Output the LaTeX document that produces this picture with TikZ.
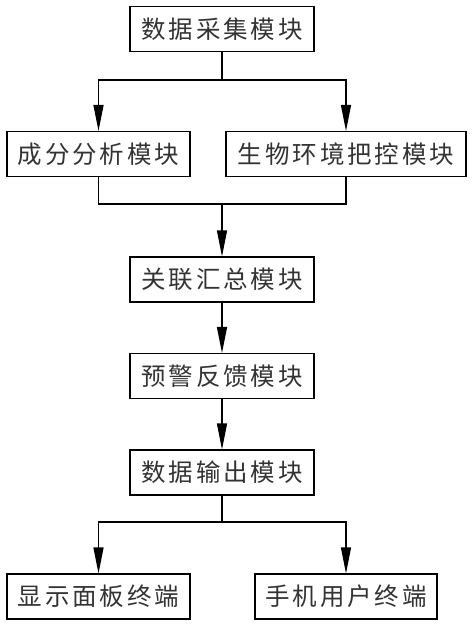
\documentclass[tikz,border=0pt]{standalone}
\usepackage{fontspec}
\newfontfamily\cjk[LetterSpace=12]{Noto Sans CJK SC}
\usetikzlibrary{arrows.meta}
\begin{document}
\begin{tikzpicture}[x=1pt,y=-1pt,
  box/.style={draw,line width=1.2pt,rectangle,minimum height=45pt,inner sep=0pt,font=\cjk\fontsize{24.5}{24.5}\selectfont,text=black!80},
  conn/.style={line width=1.2pt},
  arr/.style={conn,-{Triangle[length=26pt,width=10pt]}}]
\useasboundingbox (0,0) rectangle (474,627);
\node[box,minimum width=184pt] (a) at (222,29) {数据采集模块};
\node[box,minimum width=183pt] (b) at (98.5,154) {成分分析模块};
\node[box,minimum width=240pt] (c) at (346,154) {生物环境把控模块};
\node[box,minimum width=184pt] (d) at (222,279.5) {关联汇总模块};
\node[box,minimum width=184pt] (e) at (222,376) {预警反馈模块};
\node[box,minimum width=184pt] (f) at (222,472.5) {数据输出模块};
\node[box,minimum width=183pt] (g) at (98.5,596.5) {显示面板终端};
\node[box,minimum width=182pt] (h) at (346,596.5) {手机用户终端};
\coordinate (s1) at (222,80);
\coordinate (m1) at (222,204);
\coordinate (s2) at (222,522);
\draw[conn] (a.south) -- (s1);
\draw[arr] (s1) -| (b.north);
\draw[arr] (s1) -| (c.north);
\draw[conn] (b.south) |- (m1);
\draw[conn] (c.south) |- (m1);
\draw[arr] (m1) -- (d.north);
\draw[arr] (d) -- (e);
\draw[arr] (e) -- (f);
\draw[conn] (f.south) -- (s2);
\draw[arr] (s2) -| (g.north);
\draw[arr] (s2) -| (h.north);
\end{tikzpicture}
\end{document}
